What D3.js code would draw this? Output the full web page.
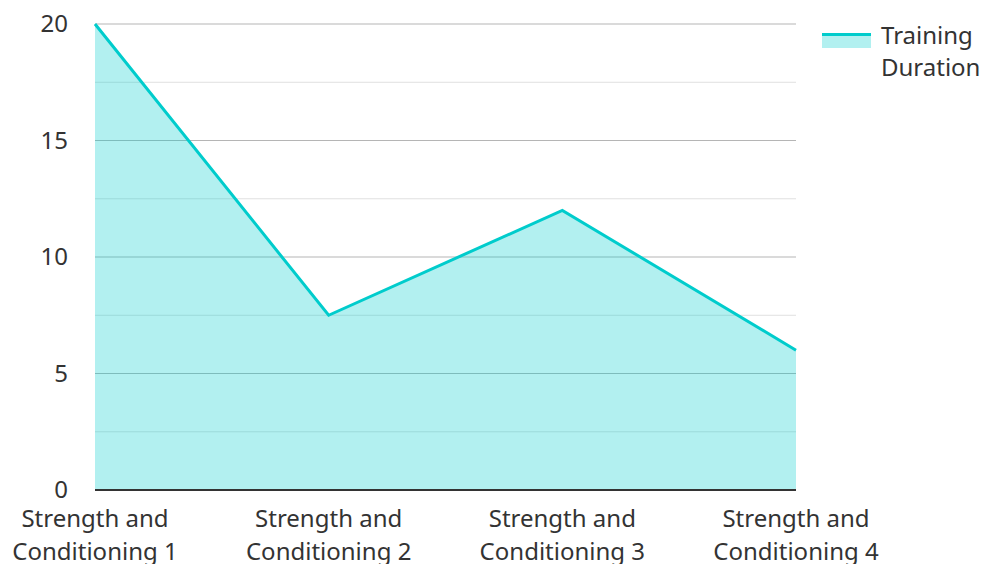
<!DOCTYPE html>
<html lang="en">
<head>
<meta charset="UTF-8">
<title>Training Duration</title>
<script src="https://d3js.org/d3.v7.min.js"></script>
<style>
  body { margin: 0; background: #fff; font-family: "Noto Sans", sans-serif; }
  text { fill: #333; }
</style>
</head>
<body>
<svg id="chart" width="986" height="564"></svg>
<script>
// data
const categories = ["Strength and Conditioning 1", "Strength and Conditioning 2",
                    "Strength and Conditioning 3", "Strength and Conditioning 4"];
const durations = [20, 7.5, 12, 6];
const yTicks = [0, 5, 10, 15, 20];
const seriesName = "Training Duration";

const svg = d3.select("#chart");
const plotLeft = 95, plotRight = 796, plotTop = 24, plotBottom = 490;
const lineColor = "#00cccc";
const fontSize = "24px";

const x = d3.scalePoint().domain(categories).range([plotLeft, plotRight]);
const y = d3.scaleLinear().domain([0, 20]).range([plotBottom, plotTop]);

// gridlines: minor every 2.5, major every 5
const gridVals = d3.range(2.5, 20.01, 2.5);
svg.append("g").selectAll("line")
  .data(gridVals)
  .join("line")
  .attr("x1", plotLeft).attr("x2", plotRight)
  .attr("y1", d => y(d)).attr("y2", d => y(d))
  .style("stroke", d => d % 5 === 0 ? "#b5b5b5" : "#e0e0e0")
  .style("stroke-width", 1);

// area fill
const area = d3.area()
  .x((d, i) => x(categories[i]))
  .y0(y(0))
  .y1(d => y(d));
svg.append("path")
  .datum(durations)
  .attr("d", area)
  .style("fill", lineColor)
  .style("fill-opacity", 0.3);

// line
const line = d3.line()
  .x((d, i) => x(categories[i]))
  .y(d => y(d));
svg.append("path")
  .datum(durations)
  .attr("d", line)
  .style("fill", "none")
  .style("stroke", lineColor)
  .style("stroke-width", 3)
  .style("stroke-linejoin", "miter");

// x baseline
svg.append("line")
  .attr("x1", plotLeft).attr("x2", plotRight)
  .attr("y1", y(0)).attr("y2", y(0))
  .style("stroke", "#333")
  .style("stroke-width", 2);

// y tick labels
svg.append("g").selectAll("text")
  .data(yTicks)
  .join("text")
  .attr("x", 68)
  .attr("y", d => y(d))
  .attr("dy", "0.35em")
  .style("text-anchor", "end")
  .style("font-size", fontSize)
  .text(d => d);

// category labels, wrapped on two lines
const catLabels = svg.append("g").selectAll("text")
  .data(categories)
  .join("text")
  .attr("x", d => x(d))
  .attr("y", 527)
  .style("text-anchor", "middle")
  .style("font-size", fontSize);
catLabels.each(function(d) {
  const parts = d.match(/^(Strength and) (.*)$/);
  const t = d3.select(this);
  t.append("tspan").attr("x", x(d)).attr("dy", 0).text(parts[1]);
  t.append("tspan").attr("x", x(d)).attr("dy", 33).text(parts[2]);
});

// legend
const lg = svg.append("g");
lg.append("rect")
  .attr("x", 822).attr("y", 34).attr("width", 49).attr("height", 14)
  .style("fill", lineColor).style("fill-opacity", 0.3);
lg.append("line")
  .attr("x1", 822).attr("x2", 871).attr("y1", 34.5).attr("y2", 34.5)
  .style("stroke", lineColor).style("stroke-width", 3);
const lt = lg.append("text")
  .attr("x", 881).attr("y", 44)
  .style("font-size", fontSize);
seriesName.split(" ").forEach((w, i) => {
  lt.append("tspan").attr("x", 881).attr("dy", i === 0 ? 0 : 32).text(w);
});
</script>
</body>
</html>
